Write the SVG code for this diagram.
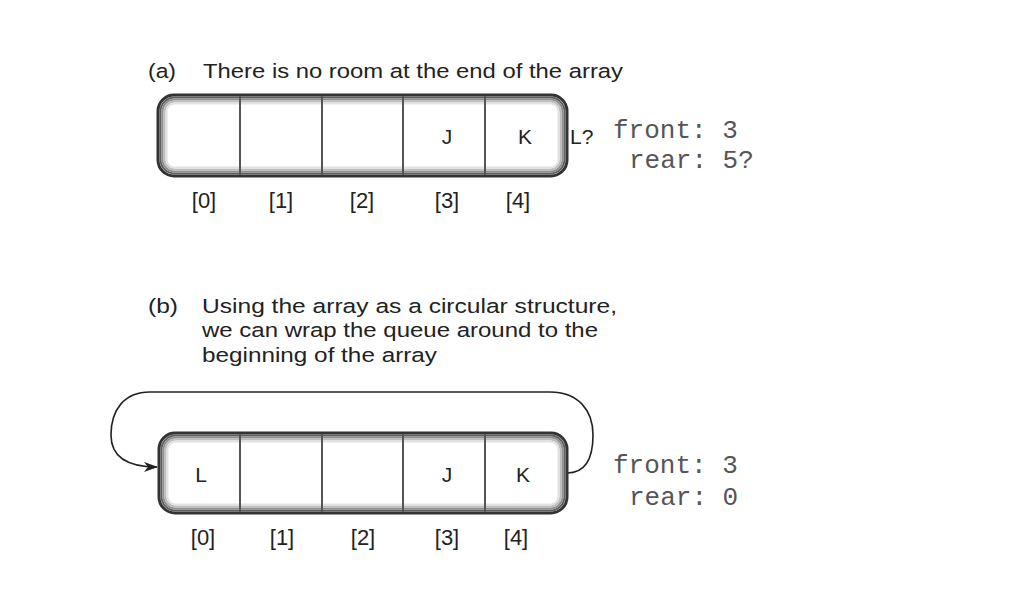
<svg xmlns="http://www.w3.org/2000/svg" width="1024" height="595" viewBox="0 0 1024 595">
<defs>
<style>
.t{font-family:"Liberation Sans","Noto Sans",sans-serif;font-size:20.5px;fill:#222}
.c{font-family:"Liberation Sans","Noto Sans",sans-serif;font-size:21px;fill:#222;text-anchor:middle}
.i{font-family:"Liberation Sans","Noto Sans",sans-serif;font-size:22px;fill:#222;text-anchor:middle}
.m{font-family:"Liberation Mono","Courier New",monospace;font-size:26px;fill:#555}
.b0{fill:#fff;stroke:#333;stroke-width:3}
.b1{fill:none;stroke:#5e5e5e;stroke-width:2}
.b2{fill:none;stroke:#8e8e8e;stroke-width:2}
.b3{fill:none;stroke:#bdbdbd;stroke-width:2}
.b4{fill:none;stroke:#e2e2e2;stroke-width:2}
.d{stroke:#555;stroke-width:2}
.arc{fill:none;stroke:#222;stroke-width:1.6}
</style>
<marker id="ah" markerWidth="14" markerHeight="10" refX="13" refY="5" orient="auto" markerUnits="userSpaceOnUse">
<path d="M0,0 L14,5 L0,10 L4,5 Z" fill="#222"/>
</marker>
</defs>
<rect width="1024" height="595" fill="#fff"/>

<g id="title-a">
<text class="t" x="148" y="78" textLength="28" lengthAdjust="spacingAndGlyphs">(a)</text>
<text class="t" x="203" y="78" textLength="420" lengthAdjust="spacingAndGlyphs">There is no room at the end of the array</text>
</g>

<g id="array-a">
<rect class="b0" x="158" y="95" width="409" height="81" rx="16"/>
<rect class="b1" x="160.5" y="97.5" width="404" height="76" rx="14"/>
<rect class="b2" x="162.5" y="99.5" width="400" height="72" rx="12"/>
<rect class="b3" x="164.5" y="101.5" width="396" height="68" rx="10"/>
<rect class="b4" x="166.5" y="103.5" width="392" height="64" rx="8"/>
<line class="d" x1="240" y1="96" x2="240" y2="175"/>
<line class="d" x1="322" y1="96" x2="322" y2="175"/>
<line class="d" x1="403" y1="96" x2="403" y2="175"/>
<line class="d" x1="485" y1="96" x2="485" y2="175"/>
<text class="c" x="447" y="144">J</text>
<text class="c" x="525" y="144">K</text>
</g>

<g id="index-a">
<text class="i" x="204" y="208">[0]</text>
<text class="i" x="281" y="208">[1]</text>
<text class="i" x="362" y="208">[2]</text>
<text class="i" x="447" y="208">[3]</text>
<text class="i" x="518" y="208">[4]</text>
</g>

<g id="state-a">
<text class="t" x="570" y="144" style="font-size:21px">L?</text>
<text class="m" x="613" y="138">front: 3</text>
<text class="m" x="629" y="168">rear: 5?</text>
</g>

<g id="title-b">
<text class="t" x="148" y="313" textLength="30" lengthAdjust="spacingAndGlyphs">(b)</text>
<text class="t" x="202" y="313" textLength="415" lengthAdjust="spacingAndGlyphs">Using the array as a circular structure,</text>
<text class="t" x="202" y="337" textLength="396" lengthAdjust="spacingAndGlyphs">we can wrap the queue around to the</text>
<text class="t" x="202" y="362" textLength="235" lengthAdjust="spacingAndGlyphs">beginning of the array</text>
</g>

<g id="connectors">
<path class="arc" d="M567,473 C588,473 593,455 593,435 C593,410 578,392 550,392 L150,392 C124,392 111,410 111,435 C111,456 126,467 157,467" marker-end="url(#ah)"/>
</g>

<g id="array-b">
<rect class="b0" x="159" y="433" width="408" height="80" rx="16"/>
<rect class="b1" x="161.5" y="435.5" width="403" height="75" rx="14"/>
<rect class="b2" x="163.5" y="437.5" width="399" height="71" rx="12"/>
<rect class="b3" x="165.5" y="439.5" width="395" height="67" rx="10"/>
<rect class="b4" x="167.5" y="441.5" width="391" height="63" rx="8"/>
<line class="d" x1="240" y1="434" x2="240" y2="512"/>
<line class="d" x1="322" y1="434" x2="322" y2="512"/>
<line class="d" x1="403" y1="434" x2="403" y2="512"/>
<line class="d" x1="485" y1="434" x2="485" y2="512"/>
<text class="c" x="201" y="482">L</text>
<text class="c" x="447" y="482">J</text>
<text class="c" x="523" y="482">K</text>
</g>

<g id="index-b">
<text class="i" x="203" y="545">[0]</text>
<text class="i" x="282" y="545">[1]</text>
<text class="i" x="363" y="545">[2]</text>
<text class="i" x="447" y="545">[3]</text>
<text class="i" x="516" y="545">[4]</text>
</g>

<g id="state-b">
<text class="m" x="613" y="473">front: 3</text>
<text class="m" x="629" y="505">rear: 0</text>
</g>
</svg>
